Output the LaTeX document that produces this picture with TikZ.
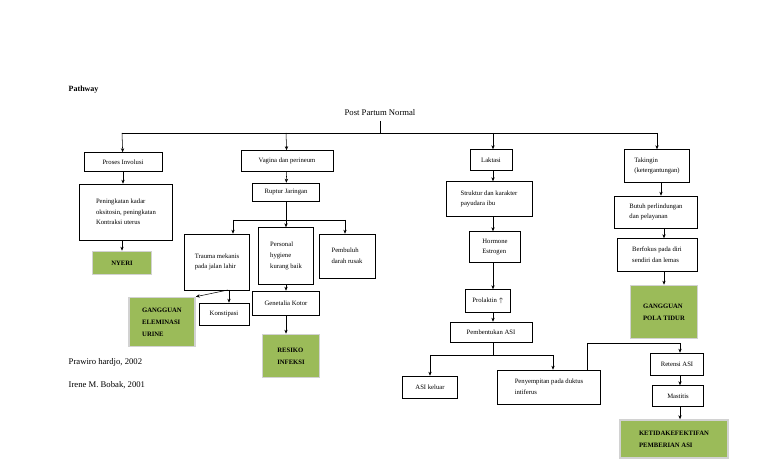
\documentclass[tikz,border=0pt]{standalone}
\usepackage{fontspec}
\setmainfont{Liberation Serif}
\usetikzlibrary{arrows.meta}
\definecolor{diaggreen}{RGB}{155,187,89}
\tikzset{
  box/.style 2 args={draw, thin, inner sep=2pt, align=left, minimum width=#1*0.75pt, minimum height=#2*0.75pt, font=\fontsize{5}{8}\selectfont},
  dx/.style 2 args={box={#1}{#2}, fill=diaggreen, draw=gray!35, line width=1.2pt, font=\fontsize{5}{9}\selectfont\bfseries},
  arr/.style={-{Stealth[length=3pt,width=2.5pt]}, thin}
}
\begin{document}
\begin{tikzpicture}[x=0.75pt, y=-0.75pt]
\useasboundingbox (0,0) rectangle (768,466);
\node[anchor=west, font=\fontsize{6}{7}\selectfont\bfseries] (title) at (64,90) {Pathway};
\node[font=\fontsize{6.5}{8}\selectfont] (root) at (380,113) {Post Partum Normal};
\coordinate (top) at (380,133);
\draw (root) -- (top);
\draw (122,133) -- (657,133);

% column 1
\node[box={78}{19}] (involusi) at (123,162) {Proses Involusi};
\node[box={93}{56}] (kadar) at (126,212) {Peningkatan kadar\\oksitosin, peningkatan\\Kontraksi uterus};
\node[dx={59}{23}] (nyeri) at (122,263) {NYERI};
\draw[arr] (122,133) -- (involusi);
\draw[arr] (involusi) -- (kadar.north -| involusi);
\draw[arr] (kadar.south -| nyeri) -- (nyeri);

% column 2
\node[box={92}{21}] (vagina) at (287,161) {Vagina dan perineum};
\node[box={67}{18}] (ruptur) at (286,192) {Ruptur Jaringan};
\node[box={65}{56}] (trauma) at (217,262) {Trauma mekanis\\pada jalan lahir};
\node[box={55}{57}] (hygiene) at (286,256) {Personal\\hygiene\\kurang baik};
\node[box={56}{44}] (pembuluh) at (347,256) {Pembuluh\\darah rusak};
\draw[arr] (286,133) -- (vagina);
\draw[arr] (vagina) -- (ruptur);
\draw (ruptur) -- (286,220);
\draw (233,220) -- (345,220);
\draw[arr] (233,220) -- (trauma.north -| 233,0);
\draw[arr] (286,220) -- (hygiene);
\draw[arr] (345,220) -- (pembuluh.north -| 345,0);
\node[dx={66}{49}] (eleminasi) at (162,322) {GANGGUAN\\ELEMINASI\\URINE};
\node[box={50}{22}] (konstipasi) at (224,314) {Konstipasi};
\node[box={67}{24}] (genetalia) at (286,303) {Genetalia Kotor};
\node[dx={57}{43}] (resiko) at (291,356) {RESIKO\\INFEKSI};
\draw[arr] (228,290) -- (eleminasi.north east);
\draw[arr] (229,290) -- (konstipasi.north -| 229,0);
\draw[arr] (hygiene) -- (genetalia);
\draw[arr] (genetalia.south -| 286,0) -- (resiko.north -| 286,0);

\node[anchor=west, font=\fontsize{6.5}{8}\selectfont] (ref1) at (64,362) {Prawiro hardjo, 2002};
\node[anchor=west, font=\fontsize{6.5}{8}\selectfont] (ref2) at (64,385) {Irene M. Bobak, 2001};

% column 3
\node[box={42}{21}] (laktasi) at (491,160) {Laktasi};
\node[box={86}{35}] (struktur) at (489,199) {Struktur dan karakter\\payudara ibu};
\node[box={51}{31}] (hormon) at (495,247) {Hormone\\Estrogen};
\node[box={45}{23}] (prolaktin) at (488,301) {Prolaktin $\uparrow$};
\node[box={82}{20}] (asi) at (491,332) {Pembentukan ASI};
\node[box={55}{22}] (keluar) at (430,387) {ASI keluar};
\node[box={103}{34}] (sempit) at (549,387) {Penyempitan pada duktus\\intiferus};
\draw[arr] (493,133) -- (laktasi.north -| 493,0);
\draw[arr] (laktasi.south -| 493,0) -- (struktur.north -| 493,0);
\draw[arr] (struktur.south -| 493,0) -- (hormon.north -| 493,0);
\draw[arr] (hormon.south -| 493,0) -- (prolaktin.north -| 493,0);
\draw[arr] (prolaktin.south -| 493,0) -- (asi.north -| 493,0);
\draw (asi.south -| 493,0) -- (493,355);
\draw (430,355) -- (553,355);
\draw[arr] (430,355) -- (keluar);
\draw[arr] (553,355) -- (sempit.north -| 553,0);
\node[box={53}{22}] (retensi) at (677,364) {Retensi ASI};
\node[box={51}{21}] (mastitis) at (678,396) {Mastitis};
\node[dx={108}{38}] (efektif) at (674,439) {KETIDAKEFEKTIFAN\\PEMBERIAN ASI};
\draw[arr] (sempit.north -| 587,0) -- (587,343) -- (680,343) -- (retensi.north -| 680,0);
\draw[arr] (retensi.south -| 680,0) -- (mastitis.north -| 680,0);
\draw[arr] (mastitis.south -| 680,0) -- (efektif.north -| 680,0);

% column 4
\node[box={65}{33}] (taking) at (657,166) {Takingin\\(ketergantungan)};
\node[box={83}{32}] (butuh) at (656,212) {Butuh perlindungan\\dan pelayanan};
\node[box={80}{33}] (fokus) at (657,255) {Berfokus pada diri\\sendiri dan lemas};
\node[dx={67}{53}] (tidur) at (664,312) {GANGGUAN\\POLA TIDUR};
\draw[arr] (657,133) -- (taking);
\draw[arr] (taking.south -| 661,0) -- (butuh.north -| 661,0);
\draw[arr] (butuh.south -| 664,0) -- (fokus.north -| 664,0);
\draw[arr] (fokus.south -| 664,0) -- (tidur);
\end{tikzpicture}
\end{document}
